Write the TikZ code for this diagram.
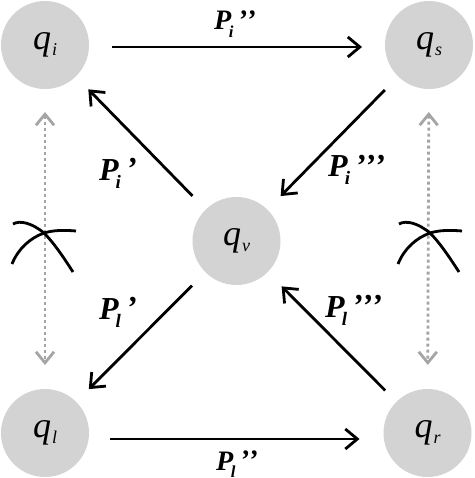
\documentclass[tikz,border=0pt]{standalone}
\usepackage{fontspec}
\usepackage{graphicx}
\setmainfont{Liberation Serif}[Ligatures=TeXOff]
\usetikzlibrary{arrows.meta}

\definecolor{stategray}{RGB}{211,211,211}
\definecolor{dotgray}{RGB}{165,165,165}

\newcommand{\qlab}[1]{{\fontsize{36}{36}\selectfont\itshape q}\kern1pt\raisebox{-6pt}{\fontsize{18}{18}\selectfont\itshape #1}}
\newcommand{\plab}[2]{{\fontsize{32}{32}\selectfont\bfseries\itshape P}\kern-3pt\raisebox{-8pt}{\fontsize{19}{19}\selectfont\bfseries\itshape #1}\kern5pt\raisebox{1pt}{\fontsize{32}{32}\selectfont\bfseries\itshape #2}}
\newcommand{\pr}{’\kern-1pt}

\begin{document}
\begin{tikzpicture}[x=1pt, y=-1pt]
\useasboundingbox (0,0) rectangle (474,478);

\begin{scope}[every node/.style={circle, fill=stategray, minimum size=88pt, inner sep=0pt, outer sep=0pt}]
    \node (qi) at (45,45) {\qlab{i}};
    \node (qs) at (429,45) {\qlab{s}};
    \node (qv) at (236.5,241) {\qlab{v}};
    \node (ql) at (45,433) {\qlab{l}};
    \node (qr) at (427.5,433) {\qlab{r}};
\end{scope}

\begin{scope}[-{Straight Barb[length=12pt, width=20pt]}, line width=2.8pt]
    \draw[shorten <=23pt, shorten >=23pt] ([yshift=-2pt]qi.east) -- ([yshift=-2pt]qs.west);
    \draw[shorten <=21pt, shorten >=24pt] ([yshift=-6pt]ql.east) -- ([yshift=-6pt]qr.west);
    \draw[shorten <=19pt, shorten >=18pt] (qv) -- (qi);
    \draw[shorten <=19pt, shorten >=19pt] (qs) -- (qv);
    \draw[shorten <=19pt, shorten >=18pt] (qv) -- (ql);
    \draw[shorten <=16pt, shorten >=20pt] (qr) -- (qv);
\end{scope}

\begin{scope}[{Straight Barb[length=11pt, width=18pt]}-{Straight Barb[length=11pt, width=18pt]}, line width=2.8pt, dotgray, dash pattern=on 3pt off 3pt]
    \draw[shorten <=23pt, shorten >=24pt] (qi) -- (ql);
    \draw[shorten <=23pt, shorten >=24pt] (qs) -- (qr);
\end{scope}

% crossing curves
\begin{scope}[shift={(44,233)}, line width=2.8pt]
    \draw (-31,-9) .. controls (-24,-13) and (-12,-10) .. (0,0) .. controls (10,10) and (20,25) .. (29,39);
    \draw (-32,31) .. controls (-26,16) and (-14,5) .. (0,0) .. controls (10,-3) and (20,-3) .. (32,-2);
\end{scope}
\begin{scope}[shift={(430,233)}, line width=2.8pt]
    \draw (-31,-9) .. controls (-24,-13) and (-12,-10) .. (0,0) .. controls (10,10) and (20,25) .. (29,39);
    \draw (-32,31) .. controls (-26,16) and (-14,5) .. (0,0) .. controls (10,-3) and (20,-3) .. (32,-2);
\end{scope}

\begin{scope}[every node/.style={anchor=base west, inner sep=0pt}]
    \node (pi2) at (214,30) {\scalebox{0.88}{\plab{i}{\pr\pr}}};
    \node (pi1) at (99,180) {\plab{i}{\pr}};
    \node (pi3) at (328,177) {\plab{i}{\pr\pr\pr}};
    \node (pl1) at (99,319) {\plab{l}{\pr}};
    \node (pl3) at (325,317) {\plab{l}{\pr\pr\pr}};
    \node (pl2) at (216,470) {\scalebox{0.88}{\plab{l}{\pr\pr}}};
\end{scope}

\end{tikzpicture}
\end{document}
